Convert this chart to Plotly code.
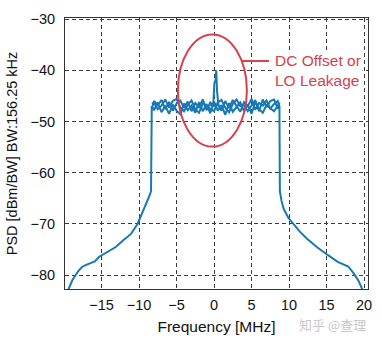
import plotly.graph_objects as go

# ---- data ----
left_f = [-19.9, -19.4, -18.9, -18.1, -17.6, -17.2, -16.6, -15.9, -15.3, -14.2, -13.1, -12.1, -11.1, -10.2, -9.6, -9.1, -8.6, -8.4, -8.33, -8.3]
left_v = [-84.5, -82.7, -81.0, -79.2, -78.4, -78.1, -77.8, -77.3, -76.4, -75.5, -74.5, -73.2, -72.0, -70.0, -68.0, -66.5, -64.5, -63.6, -55.0, -47.0]

right_f = [8.72, 8.75, 8.78, 9.0, 9.3, 9.9, 10.6, 11.5, 12.4, 13.7, 15.2, 16.5, 17.9, 18.7, 19.3, 19.8, 20.3]
right_v = [-47.0, -55.0, -63.6, -65.5, -67.1, -68.8, -70.0, -71.6, -72.9, -74.5, -76.1, -77.4, -78.3, -79.8, -81.2, -82.7, -84.5]

band_f = [-8.3, -8.0, -7.5, -7.0, -6.5, -6.0, -5.5, -5.0, -4.5, -4.0, -3.5, -3.0, -2.5, -2.0, -1.5, -1.0,
          -0.5, 0.0, 0.5, 1.0, 1.5, 2.0, 2.5, 3.0, 3.5, 4.0, 4.5, 5.0, 5.5, 6.0, 6.5, 7.0, 7.5, 8.0, 8.5, 8.72]
band_a = [-47.5, -46.0, -46.8, -45.8, -47.6, -46.2, -47.9, -46.5, -45.9, -47.3, -46.1, -48.0, -46.4, -47.2, -45.7, -47.8,
          -46.3, -47.0, -46.6, -47.9, -46.0, -47.4, -45.8, -46.9, -48.1, -46.2, -47.0, -45.6, -47.7, -46.4, -46.9, -45.9, -47.5, -46.6, -46.0, -47.2]
band_b = [-47.0, -47.8, -46.3, -48.2, -46.9, -48.5, -46.7, -47.9, -48.6, -46.5, -47.8, -46.9, -48.3, -46.2, -48.0, -46.6,
          -48.4, -46.1, -47.9, -46.8, -48.7, -46.4, -48.1, -47.2, -46.3, -48.0, -46.7, -48.5, -46.2, -47.6, -48.3, -46.8, -47.4, -48.0, -46.9, -47.5]
band_c = [-46.5, -46.4, -47.6, -46.9, -45.7, -47.3, -46.0, -45.6, -47.2, -48.0, -46.8, -45.9, -47.6, -48.3, -46.5, -46.9,
          -47.5, -48.0, -46.3, -45.8, -47.3, -48.2, -46.6, -45.7, -47.0, -46.8, -48.0, -46.9, -45.8, -48.0, -45.7, -47.2, -46.0, -45.7, -47.5, -46.3]

spike_f = [-0.5, -0.1, 0.05, 0.2, 0.3, 0.4, 0.6]
spike_v = [-47.0, -46.5, -42.5, -42.0, -40.0, -44.0, -47.0]

x_ticks = [-15, -10, -5, 0, 5, 10, 15, 20]
y_ticks = [-80, -70, -60, -50, -40, -30]

# ellipse / annotation (data coords)
ell_x = [-4.82, 4.38]
ell_y = [-54.9, -33.0]
conn_x = [3.69, 7.33]
conn_y = -38.2
note_text = "DC Offset or<br>LO Leakage"
x_title = "Frequency [MHz]"
y_title = "PSD [dBm/BW] BW:156.25 kHz"
watermark = "知乎 @查理"

BLUE = "#1778b4"
RED = "#d9404f"
FONT = "Liberation Sans, Arial, sans-serif"

fig = go.Figure()
for fx, fv in [(left_f, left_v), (band_f, band_a), (band_f, band_b), (band_f, band_c), (spike_f, spike_v), (right_f, right_v)]:
    fig.add_trace(go.Scatter(x=fx, y=fv, mode="lines", line=dict(color=BLUE, width=2),
                             hoverinfo="skip", showlegend=False))

fig.add_shape(type="circle", xref="x", yref="y", x0=ell_x[0], x1=ell_x[1], y0=ell_y[0], y1=ell_y[1],
              line=dict(color=RED, width=2))
fig.add_shape(type="line", xref="x", yref="y", x0=conn_x[0], x1=conn_x[1], y0=conn_y, y1=conn_y,
              line=dict(color=RED, width=2))
fig.add_annotation(x=7.9, y=-40.0, xref="x", yref="y", text=note_text, showarrow=False,
                   xanchor="left", yanchor="middle", align="left", bgcolor="white", borderpad=1,
                   font=dict(family=FONT, size=15.5, color=RED))
fig.add_annotation(x=0.883, y=-0.13, xref="paper", yref="paper", text=watermark, showarrow=False,
                   xanchor="center", yanchor="middle",
                   font=dict(family="Noto Sans CJK SC", size=13, color="#c8c8c8"))

axis_common = dict(showline=True, mirror=True, linecolor="#333333", linewidth=1,
                   showgrid=True, gridcolor="#3a3a3a", gridwidth=1, griddash="4px,3px",
                   zeroline=False, ticks="", tickfont=dict(family=FONT, size=14.5, color="#111"))

fig.update_xaxes(range=[-19.87, 20.53], tickvals=x_ticks, ticklabelstandoff=3,
                 title=dict(text=x_title, font=dict(family=FONT, size=15.5, color="#111"), standoff=8),
                 **axis_common)
fig.update_yaxes(range=[-82.7, -29.8], tickvals=y_ticks, ticklabelstandoff=6,
                 title=dict(text=y_title, font=dict(family=FONT, size=14.5, color="#111"), standoff=9),
                 **axis_common)

fig.update_layout(width=382, height=342, margin=dict(l=65, r=10, t=18, b=50),
                  plot_bgcolor="white", paper_bgcolor="white")

fig.write_html("out.html")
